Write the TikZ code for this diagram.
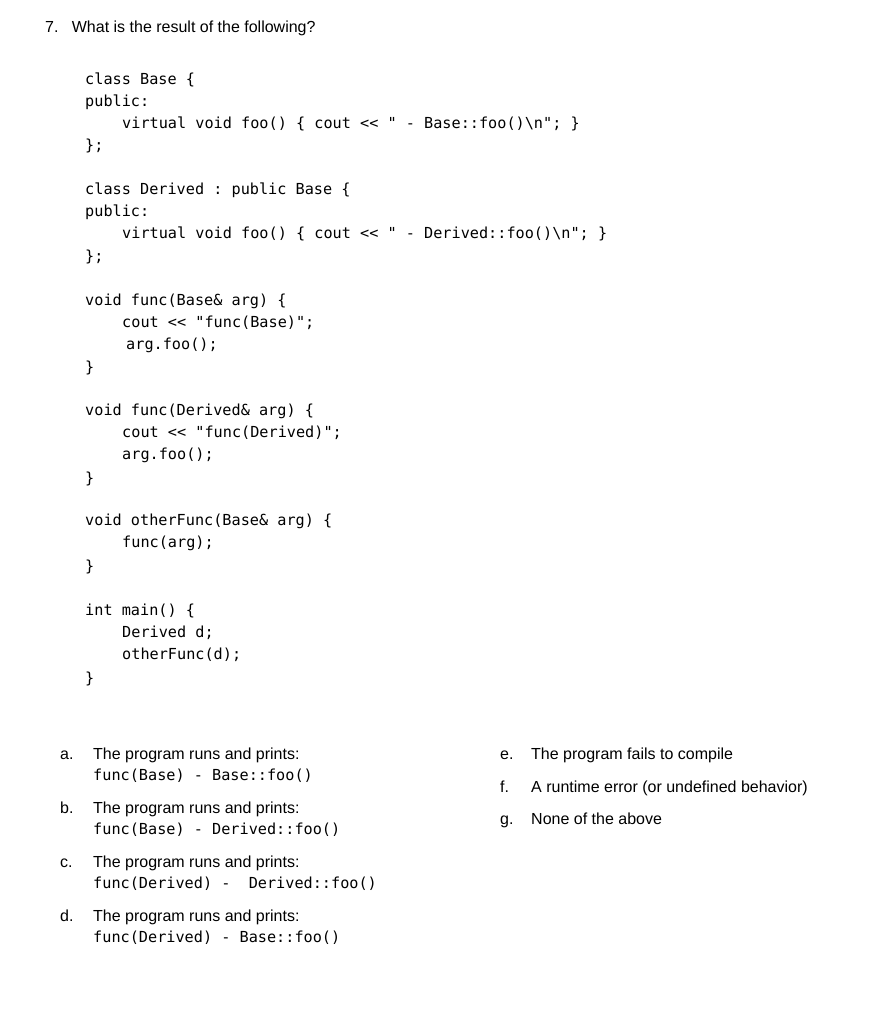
\documentclass[tikz,border=0pt]{standalone}
\usepackage{fontspec}
\setmainfont{Liberation Sans}
\setmonofont{DejaVu Sans Mono}
\begin{document}
\begin{tikzpicture}[x=1pt,y=-1pt,
  code/.style={anchor=base west,inner sep=0,font=\ttfamily\fontsize{15.2}{18}\selectfont},
  txt/.style={anchor=base west,inner sep=0,font=\fontsize{16}{19}\selectfont}]
\useasboundingbox[fill=white] (0,0) rectangle (871,1024);
\newcommand\cl[4]{\node[code] (#1) at (#2,#3+5) {#4};}
\newcommand\tl[4]{\node[txt] (#1) at (#2,#3+6) {#4};}
\tl{q}{45}{27}{7.\ \ \ What is the result of the following?}
\cl{c1}{85}{80}{class Base \{}
\cl{c2}{85}{102}{public:}
\cl{c3}{122}{124}{virtual void foo() \{ cout << " - Base::foo()\textbackslash n"; \}}
\cl{c4}{85}{146}{\};}
\cl{c5}{85}{190}{class Derived : public Base \{}
\cl{c6}{85}{212}{public:}
\cl{c7}{122}{234}{virtual void foo() \{ cout << " - Derived::foo()\textbackslash n"; \}}
\cl{c8}{85}{256}{\};}
\cl{c9}{85}{300}{void func(Base\& arg) \{}
\cl{c10}{122}{322}{cout << "func(Base)";}
\cl{c11}{126}{344}{arg.foo();}
\cl{c12}{85}{367}{\}}
\cl{c13}{85}{410}{void func(Derived\& arg) \{}
\cl{c14}{122}{432}{cout << "func(Derived)";}
\cl{c15}{122}{454}{arg.foo();}
\cl{c16}{85}{478}{\}}
\cl{c17}{85}{520}{void otherFunc(Base\& arg) \{}
\cl{c18}{122}{542}{func(arg);}
\cl{c19}{85}{566}{\}}
\cl{c20}{85}{610}{int main() \{}
\cl{c21}{122}{632}{Derived d;}
\cl{c22}{122}{654}{otherFunc(d);}
\cl{c23}{85}{678}{\}}
\tl{la}{60}{753}{a.}\tl{ta}{93}{753}{The program runs and prints:}
\cl{ca}{93}{775}{func(Base) - Base::foo()}
\tl{lb}{60}{807}{b.}\tl{tb}{93}{807}{The program runs and prints:}
\cl{cb}{93}{829}{func(Base) - Derived::foo()}
\tl{lc}{60}{861}{c.}\tl{tc}{93}{861}{The program runs and prints:}
\cl{cc}{93}{883}{func(Derived) -\ \ Derived::foo()}
\tl{ld}{60}{915}{d.}\tl{td}{93}{915}{The program runs and prints:}
\cl{cd}{93}{937}{func(Derived) - Base::foo()}
\tl{le}{500}{753}{e.}\tl{te}{531}{753}{The program fails to compile}
\tl{lf}{500}{786}{f.}\tl{tf}{531}{786}{A runtime error (or undefined behavior)}
\tl{lg}{500}{818}{g.}\tl{tg}{531}{818}{None of the above}
\end{tikzpicture}
\end{document}
